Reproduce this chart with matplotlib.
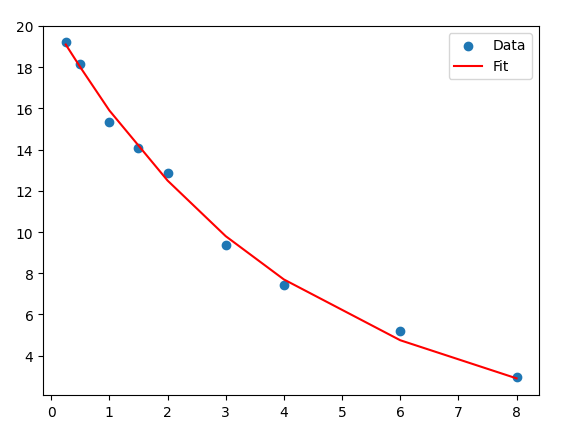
import matplotlib
matplotlib.use("Agg")
import matplotlib.pyplot as plt

x_data = [0.25, 0.5, 1, 1.5, 2, 3, 4, 6, 8]
y_data = [19.2, 18.15, 15.35, 14.1, 12.85, 9.35, 7.45, 5.2, 2.95]
y_fit = [19.1, 18.0, 15.9, 14.2, 12.5, 9.8, 7.7, 4.75, 2.9]

fig, ax = plt.subplots(figsize=(5.61, 4.35), dpi=100)
fig.subplots_adjust(left=0.077, right=0.961, top=0.938, bottom=0.09)
ax.scatter(x_data, y_data, label="Data")
ax.plot(x_data, y_fit, color="red", label="Fit")
ax.set_ylim(2.1, 20)
ax.legend(loc="upper right")
fig.savefig("out.png", dpi=100)
